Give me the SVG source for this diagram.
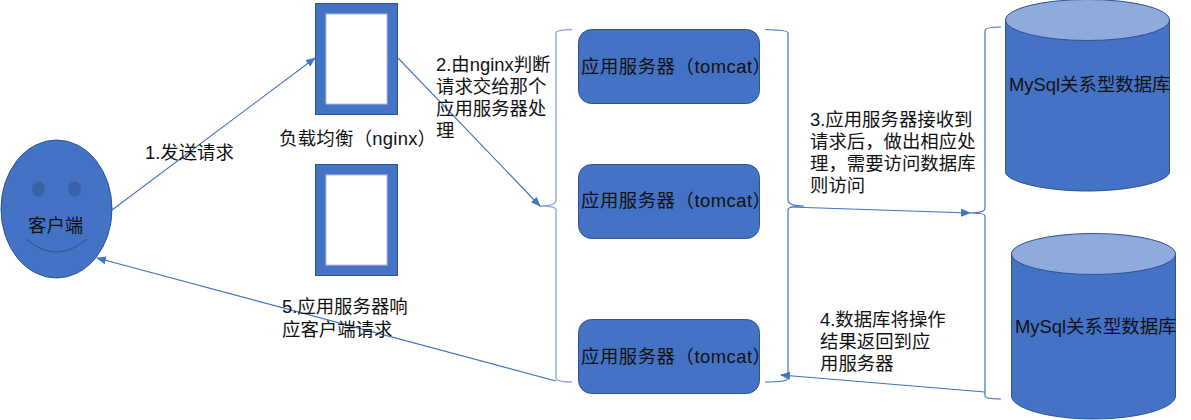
<svg xmlns="http://www.w3.org/2000/svg" width="1191" height="420" viewBox="0 0 1191 420">
<style>
text{font-family:"Liberation Sans","Noto Sans CJK SC",sans-serif;font-size:18.4px;fill:#111}
.sh{fill:#4472c4;stroke:#2f528f;stroke-width:1}
.in{fill:#fff;stroke:#b4c0d8;stroke-width:1}
.top{fill:#8faadc;stroke:#2f528f;stroke-width:1}
.c{fill:none;stroke:#4472c4;stroke-width:1.1}
.b{fill:none;stroke:#4472c4;stroke-width:1.2}
.l{fill:none;stroke:#8faadc;stroke-width:1.4}
</style>
<defs><marker id="a" markerWidth="10" markerHeight="8" refX="9" refY="4" orient="auto" markerUnits="userSpaceOnUse"><path d="M0 0L10 4L0 8Z" fill="#4472c4"/></marker></defs>
<rect width="1191" height="420" fill="#fff"/>
<g id="client">
<ellipse class="sh" cx="56.500" cy="209" rx="55.500" ry="69"/>
<ellipse cx="38.500" cy="189" rx="6.500" ry="7.500" fill="#3b62a8"/>
<ellipse cx="74.500" cy="189" rx="6.500" ry="7.500" fill="#3b62a8"/>
<path d="M26 239Q56 265 87 239" fill="none" stroke="#2f528f"/>
<text x="28" y="232">客户端</text>
</g>
<g id="lb1"><rect class="sh" x="315.500" y="3.500" width="82" height="111"/><rect class="in" x="326" y="14" width="61" height="90"/></g>
<g id="lb-label"><text x="279" y="145" textLength="157">负载均衡（nginx）</text></g>
<g id="lb2"><rect class="sh" x="315.500" y="164.500" width="82" height="111"/><rect class="in" x="326" y="175" width="61" height="90"/></g>
<g id="app1"><rect class="sh" x="578.500" y="29.500" width="181" height="74" rx="13"/><text x="581" y="73" textLength="190">应用服务器（tomcat）</text></g>
<g id="app2"><rect class="sh" x="578.500" y="164.500" width="181" height="74" rx="13"/><text x="581" y="207" textLength="190">应用服务器（tomcat）</text></g>
<g id="app3"><rect class="sh" x="578.500" y="319.500" width="181" height="74" rx="13"/><text x="581" y="363" textLength="190">应用服务器（tomcat）</text></g>
<g id="db1"><path class="sh" d="M1005.500 20V172C1005.500 181 1042 191 1087.500 191S1169.500 181 1169.500 172V20Z"/><ellipse class="top" cx="1087.500" cy="20" rx="82" ry="20.500"/><text x="1009" y="91">MySql关系型数据库</text></g>
<g id="db2"><path class="sh" d="M1011.500 254V396C1011.500 408 1048 419 1093.500 419S1175.500 408 1175.500 396V254Z"/><ellipse class="top" cx="1093.500" cy="254" rx="82" ry="20.500"/><text x="1015" y="333">MySql关系型数据库</text></g>
<g id="connectors">
<path class="l" d="M572 29.500Q556 30 556 33V200Q556 206 540 206Q556 206 556 210V378Q556 382 572 382"/>
<path class="b" d="M765 29.500Q788 30 788 33V200Q788 206 804 206Q788 206 788 210V378Q789 382 765 382"/>
<path class="b" d="M1001 27Q985 27 985 31V208Q985 213 970 213Q985 213 985 216V396Q985 399 1001 399"/>
<path class="c" d="M112 210L315 58" marker-end="url(#a)"/>
<path class="c" d="M398 58L540 206" marker-end="url(#a)"/>
<path class="c" d="M790 207L970 213" marker-end="url(#a)"/>
<path class="c" d="M985 392L781 375" marker-end="url(#a)"/>
<path class="c" d="M556 381L97 258" marker-end="url(#a)"/>
</g>
<g id="labels">
<text x="145" y="159">1.发送请求</text>
<text x="436" y="71">2.由nginx判断</text><text x="436" y="93">请求交给那个</text><text x="436" y="115">应用服务器处</text><text x="436" y="137">理</text>
<text x="810" y="126">3.应用服务器接收到</text><text x="810" y="148">请求后，做出相应处</text><text x="810" y="170">理，需要访问数据库</text><text x="810" y="192">则访问</text>
<text x="820" y="326">4.数据库将操作</text><text x="820" y="348">结果返回到应</text><text x="820" y="370">用服务器</text>
<text x="282" y="313">5.应用服务器响</text><text x="282" y="336">应客户端请求</text>
</g>
</svg>
